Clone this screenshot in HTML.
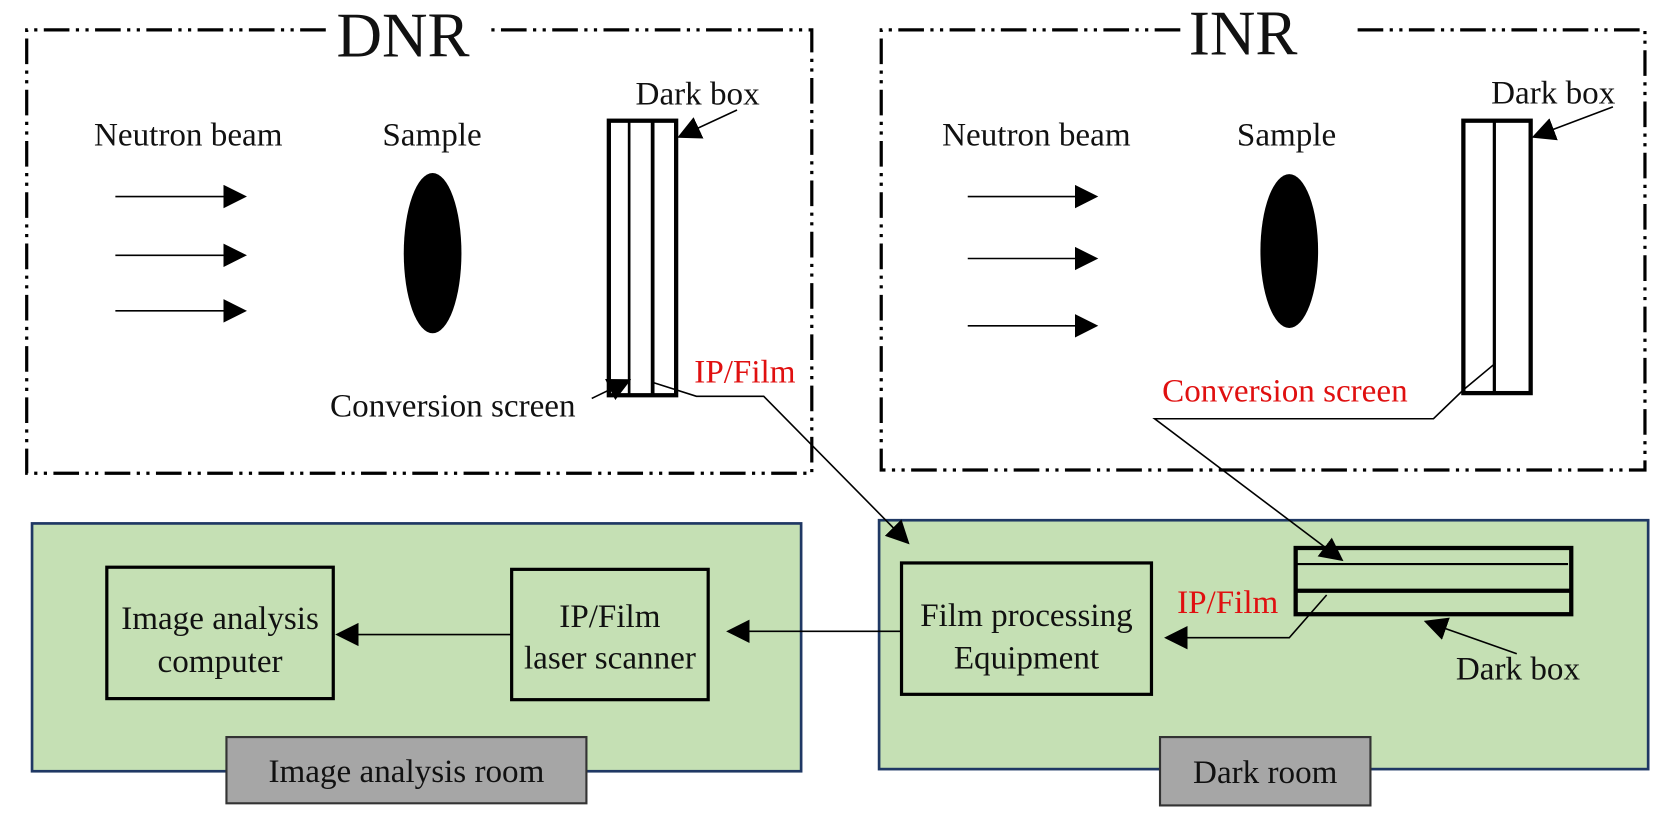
<!DOCTYPE html>
<html><head><meta charset="utf-8"><style>
html,body{margin:0;padding:0;background:#fff;}
svg{display:block;}
text{font-family:"Liberation Serif",serif;fill:#111;}
</style></head><body>
<svg width="1677" height="830" viewBox="0 0 1570 777" preserveAspectRatio="none" xmlns="http://www.w3.org/2000/svg">
<defs>
<marker id="b" viewBox="0 0 10 10" refX="9" refY="5" markerWidth="22" markerHeight="22" markerUnits="userSpaceOnUse" orient="auto"><path d="M0,0L10,5L0,10z" fill="#000"/></marker>
</defs>
<rect x="30" y="490" width="720" height="232" fill="#c5e0b4" stroke="#1f3864" stroke-width="2.5"/>
<rect x="823" y="487" width="720" height="233" fill="#c5e0b4" stroke="#1f3864" stroke-width="2.5"/>
<rect x="212" y="690" width="337" height="62" fill="#a6a6a6" stroke="#333" stroke-width="2"/>
<text x="380.5" y="732" font-size="31" text-anchor="middle">Image analysis room</text>
<rect x="1086" y="690" width="197" height="64" fill="#a6a6a6" stroke="#333" stroke-width="2"/>
<text x="1184.5" y="733" font-size="31" text-anchor="middle">Dark room</text>

<g fill="none" stroke="#000" stroke-width="3" stroke-dasharray="24 6 3 6 3 6">
<path d="M305,28 H25 V443 H760 V28 H455"/>
<path d="M1105,28 H825 V440 H1540 V28 H1265"/>
</g>
<text x="315" y="53" font-size="59">DNR</text>
<text x="1113" y="51" font-size="59">INR</text>

<text x="88" y="136" font-size="31">Neutron beam</text>
<g stroke="#000" stroke-width="1.5" marker-end="url(#b)">
<line x1="108" y1="184" x2="229" y2="184"/>
<line x1="108" y1="239" x2="229" y2="239"/>
<line x1="108" y1="291" x2="229" y2="291"/>
</g>
<text x="358" y="136" font-size="31">Sample</text>
<ellipse cx="405" cy="237" rx="27" ry="75" fill="#000"/>
<rect x="570" y="113" width="63" height="257" fill="#fff" stroke="#000" stroke-width="4"/>
<line x1="589" y1="113" x2="589" y2="370" stroke="#000" stroke-width="2.5"/>
<line x1="611" y1="113" x2="611" y2="370" stroke="#000" stroke-width="3.5"/>
<text x="595" y="98" font-size="31">Dark box</text>
<line x1="690" y1="103" x2="636" y2="128" stroke="#000" stroke-width="1.5" marker-end="url(#b)"/>
<text x="309" y="390" font-size="31">Conversion screen</text>
<line x1="554" y1="373" x2="589" y2="356" stroke="#000" stroke-width="1.5" marker-end="url(#b)"/>
<text x="650" y="358" font-size="31" style="fill:#e01010">IP/Film</text>
<polyline points="611,358 652,371 715,371 850,508" fill="none" stroke="#000" stroke-width="1.5" marker-end="url(#b)"/>

<text x="882" y="136" font-size="31">Neutron beam</text>
<g stroke="#000" stroke-width="1.5" marker-end="url(#b)">
<line x1="906" y1="184" x2="1026" y2="184"/>
<line x1="906" y1="242" x2="1026" y2="242"/>
<line x1="906" y1="305" x2="1026" y2="305"/>
</g>
<text x="1158" y="136" font-size="31">Sample</text>
<ellipse cx="1207" cy="235" rx="27" ry="72" fill="#000"/>
<rect x="1370" y="113" width="63" height="255" fill="#fff" stroke="#000" stroke-width="4"/>
<line x1="1399" y1="113" x2="1399" y2="368" stroke="#000" stroke-width="3"/>
<text x="1396" y="97" font-size="31">Dark box</text>
<line x1="1510" y1="100" x2="1436" y2="128" stroke="#000" stroke-width="1.5" marker-end="url(#b)"/>
<text x="1088" y="376" font-size="31" style="fill:#e01010">Conversion screen</text>
<polyline points="1400,340 1370,365 1342,392 1081,392 1256,524" fill="none" stroke="#000" stroke-width="1.5" marker-end="url(#b)"/>

<g fill="none" stroke="#000" stroke-width="3">
<rect x="100" y="531" width="212" height="123"/>
<rect x="479" y="533" width="184" height="122"/>
<rect x="844" y="527" width="234" height="123"/>
</g>
<text x="206" y="589" font-size="31" text-anchor="middle">Image analysis</text>
<text x="206" y="629" font-size="31" text-anchor="middle">computer</text>
<text x="571" y="587" font-size="31" text-anchor="middle">IP/Film</text>
<text x="571" y="626" font-size="31" text-anchor="middle">laser scanner</text>
<text x="961" y="586" font-size="31" text-anchor="middle">Film processing</text>
<text x="961" y="626" font-size="31" text-anchor="middle">Equipment</text>
<line x1="478" y1="594" x2="316" y2="594" stroke="#000" stroke-width="1.5" marker-end="url(#b)"/>
<line x1="843" y1="591" x2="682" y2="591" stroke="#000" stroke-width="1.5" marker-end="url(#b)"/>

<rect x="1213" y="513" width="258" height="62" fill="none" stroke="#000" stroke-width="4"/>
<line x1="1213" y1="528" x2="1468" y2="528" stroke="#000" stroke-width="2"/>
<line x1="1213" y1="553" x2="1471" y2="553" stroke="#000" stroke-width="4"/>
<text x="1102" y="574" font-size="31" style="fill:#e01010">IP/Film</text>
<polyline points="1242,557 1207,597 1092,597" fill="none" stroke="#000" stroke-width="1.5" marker-end="url(#b)"/>
<text x="1363" y="636" font-size="31">Dark box</text>
<line x1="1420" y1="612" x2="1335" y2="582" stroke="#000" stroke-width="1.5" marker-end="url(#b)"/>
</svg>
</body></html>
